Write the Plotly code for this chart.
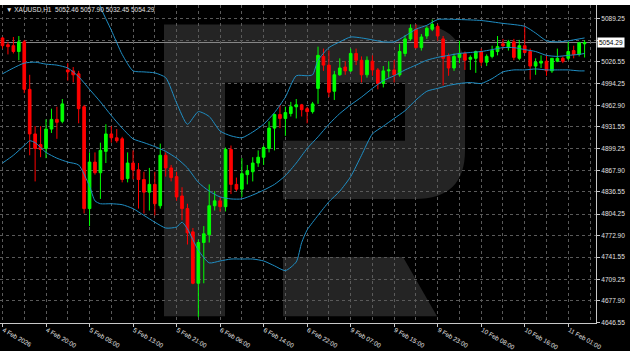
import plotly.graph_objects as go

# ---------------- data ----------------
open_ = [5061.0, 5051.1, 5049.7, 5041.2, 5055.3, 4986.1, 4921.1, 4905.6, 4899.9, 4928.2,
         4942.3, 4939.5, 5014.4, 5013.0, 5008.7, 4960.7, 4812.3, 4880.1, 4864.6, 4895.7,
         4921.1, 4915.5, 4914.0, 4856.1, 4878.7, 4868.8, 4854.7, 4836.3, 4847.6, 4816.5,
         4890.0, 4871.6, 4858.9, 4830.7, 4812.3, 4778.4, 4703.5, 4762.9, 4774.1, 4816.5,
         4823.6, 4815.1, 4898.5, 4847.6, 4840.6, 4861.8, 4866.0, 4878.7, 4887.2, 4899.9,
         4929.6, 4949.4, 4943.7, 4950.8, 4960.7, 4963.5, 4957.9, 4953.6, 4987.5, 5034.1,
         5021.4, 4983.3, 5007.3, 5018.6, 5013.0, 5038.4, 5028.5, 5007.3, 5027.1, 5014.4,
         4994.6, 5013.0, 5014.4, 5007.3, 5038.4, 5059.6, 5073.7, 5046.9, 5063.8, 5073.7,
         5077.9, 5059.6, 5034.1, 5017.2, 5032.7, 5038.4, 5029.9, 5031.3, 5041.2, 5025.7,
         5034.1, 5041.2, 5052.5, 5046.9, 5055.3, 5031.3, 5049.7, 5041.2, 5020.0, 5024.3,
         5027.1, 5013.0, 5027.1, 5031.3, 5031.3, 5042.6, 5037.0, 5052.46]
high = [5062.4, 5055.3, 5062.4, 5063.8, 5058.2, 5007.3, 4932.4, 4932.4, 4942.3, 4957.9,
        4960.7, 4972.0, 5024.3, 5018.6, 5013.0, 4963.5, 4894.2, 4894.2, 4908.4, 4935.2,
        4932.4, 4928.2, 4916.9, 4894.2, 4897.1, 4878.7, 4866.0, 4871.6, 4866.0, 4907.0,
        4894.2, 4875.9, 4866.0, 4843.4, 4819.4, 4784.0, 4767.1, 4786.8, 4847.6, 4837.7,
        4829.3, 4901.3, 4904.2, 4857.5, 4885.8, 4875.9, 4887.2, 4897.1, 4904.2, 4939.5,
        4950.8, 4963.5, 4960.7, 4967.8, 4972.0, 4964.9, 4960.7, 4967.8, 5048.3, 5045.5,
        5042.6, 5013.0, 5031.3, 5027.1, 5045.5, 5045.5, 5034.1, 5034.1, 5035.6, 5017.2,
        5020.0, 5027.1, 5028.5, 5052.5, 5065.2, 5080.8, 5080.8, 5066.6, 5077.9, 5087.8,
        5080.8, 5063.8, 5038.4, 5038.4, 5056.8, 5041.2, 5035.6, 5042.6, 5045.5, 5037.0,
        5049.7, 5063.8, 5059.6, 5058.2, 5059.6, 5058.2, 5077.9, 5045.5, 5031.3, 5035.6,
        5035.6, 5031.3, 5045.5, 5034.1, 5055.3, 5049.7, 5055.3, 5057.90]
low = [5045.5, 5037.0, 5038.4, 5028.5, 4980.5, 4890.0, 4851.9, 4887.2, 4885.8, 4922.5,
       4914.0, 4936.6, 4998.8, 4996.0, 4936.6, 4805.2, 4786.8, 4861.8, 4826.4, 4878.7,
       4908.4, 4908.4, 4850.5, 4850.5, 4854.7, 4812.3, 4805.2, 4809.5, 4802.4, 4812.3,
       4858.9, 4851.9, 4823.6, 4795.4, 4760.0, 4702.1, 4654.1, 4703.5, 4762.9, 4809.5,
       4808.1, 4808.1, 4833.5, 4837.7, 4829.3, 4847.6, 4851.9, 4873.1, 4875.9, 4894.2,
       4897.1, 4929.6, 4918.3, 4946.5, 4943.7, 4946.5, 4936.6, 4950.8, 4964.9, 5013.0,
       4974.8, 4970.6, 5005.9, 5007.3, 5011.5, 5021.4, 4996.0, 5003.1, 5005.9, 4986.1,
       4988.9, 5003.1, 4996.0, 5004.5, 5034.1, 5056.8, 5045.5, 5042.6, 5059.6, 5070.9,
       5056.8, 4991.8, 5005.9, 5013.0, 5024.3, 5014.4, 5014.4, 5010.1, 5020.0, 5020.0,
       5031.3, 5035.6, 5045.5, 5042.6, 5028.5, 5028.5, 5038.4, 5000.2, 5007.3, 5017.2,
       5005.9, 5010.1, 5025.7, 5024.3, 5028.5, 5031.3, 5034.1, 5032.45]
close = [5049.7, 5048.3, 5041.2, 5055.3, 4986.1, 4921.1, 4899.9, 4898.5, 4928.2, 4942.3,
         4938.1, 4964.9, 5011.5, 5007.3, 4957.9, 4812.3, 4880.1, 4864.6, 4897.1, 4921.1,
         4915.5, 4911.2, 4854.7, 4878.7, 4868.8, 4854.7, 4836.3, 4847.6, 4819.4, 4890.0,
         4871.6, 4857.5, 4829.3, 4812.3, 4777.0, 4703.5, 4762.9, 4775.6, 4816.5, 4823.6,
         4815.1, 4898.5, 4847.6, 4840.6, 4863.2, 4867.4, 4878.7, 4887.2, 4901.3, 4929.6,
         4949.4, 4943.7, 4952.2, 4960.7, 4963.5, 4956.4, 4953.6, 4964.9, 5035.6, 5021.4,
         4981.9, 5007.3, 5017.2, 5013.0, 5038.4, 5028.5, 5007.3, 5028.5, 5014.4, 4994.6,
         5013.0, 5014.4, 5007.3, 5041.2, 5059.6, 5075.1, 5046.9, 5062.4, 5075.1, 5080.8,
         5063.8, 5031.3, 5017.2, 5034.1, 5038.4, 5028.5, 5032.7, 5041.2, 5025.7, 5034.1,
         5042.6, 5048.3, 5049.7, 5055.3, 5032.7, 5049.7, 5039.8, 5020.0, 5025.7, 5027.1,
         5013.0, 5031.3, 5031.3, 5027.1, 5041.2, 5037.0, 5053.9, 5054.29]
bars = list(range(len(close)))

upper_idx = [17, 18, 20, 22, 24, 26, 28, 30, 32, 34, 36, 38, 40, 42, 44, 46, 48, 50, 52, 54,
             56, 57, 58, 60, 62, 64, 66, 68, 70, 72, 74, 76, 78, 80, 84, 88, 92, 96, 98, 100,
             102, 104, 106, 107]
upper_band = [5131.6, 5106.2, 5072.3, 5037.0, 5013.0, 5011.5, 5010.1, 5003.1, 4966.3, 4935.2,
              4953.6, 4946.5, 4925.3, 4918.3, 4915.5, 4923.9, 4935.2, 4952.2, 4974.8, 5005.9,
              5005.9, 5007.3, 5028.5, 5046.9, 5055.3, 5062.4, 5061.0, 5058.2, 5055.3, 5055.3,
              5063.8, 5073.7, 5079.4, 5087.8, 5087.8, 5086.4, 5082.2, 5077.9, 5068.1, 5056.8,
              5055.3, 5056.8, 5059.6, 5061.0]
mid_idx = [0, 2, 4, 6, 8, 10, 12, 14, 16, 18, 20, 22, 24, 26, 28, 30, 32, 34, 36, 38, 40, 42,
           44, 46, 48, 50, 52, 54, 56, 58, 60, 62, 64, 66, 68, 70, 72, 74, 76, 78, 80, 82, 84,
           86, 88, 90, 92, 94, 96, 98, 100, 102, 104, 106, 107]
mid_band = [5008.7, 5017.2, 5024.3, 5025.7, 5022.8, 5021.4, 5017.2, 5004.5, 4986.1, 4967.8,
            4947.9, 4929.6, 4914.0, 4908.4, 4902.7, 4895.7, 4885.8, 4871.6, 4850.5, 4837.7,
            4829.3, 4826.4, 4826.4, 4832.1, 4839.2, 4847.6, 4860.3, 4878.7, 4899.9, 4916.9,
            4935.2, 4950.8, 4963.5, 4974.8, 4987.5, 4998.8, 5005.9, 5014.4, 5021.4, 5028.5,
            5032.7, 5035.6, 5038.4, 5039.8, 5041.2, 5044.0, 5046.9, 5046.9, 5044.0, 5041.2,
            5035.6, 5034.1, 5035.6, 5037.0, 5038.4]
lower_idx = [0, 2, 4, 5, 6, 8, 10, 12, 14, 16, 17, 18, 20, 22, 24, 26, 28, 30, 32, 33, 34, 36,
             38, 40, 42, 44, 46, 48, 50, 52, 54, 55, 56, 58, 60, 62, 64, 66, 68, 70, 72, 74,
             76, 78, 80, 82, 84, 86, 88, 90, 92, 94, 96, 98, 100, 102, 104, 106, 107]
lower_band = [4878.7, 4890.0, 4904.2, 4911.2, 4908.4, 4894.2, 4885.8, 4880.1, 4875.9, 4844.8,
              4823.6, 4819.4, 4819.4, 4818.0, 4812.3, 4802.4, 4792.5, 4784.0, 4785.4, 4792.5,
              4782.6, 4751.6, 4733.2, 4736.0, 4738.8, 4738.8, 4738.8, 4736.0, 4728.9, 4721.9,
              4734.6, 4762.9, 4781.2, 4802.4, 4822.2, 4837.7, 4858.9, 4890.0, 4921.1, 4932.4,
              4943.7, 4955.0, 4970.6, 4983.3, 4987.5, 4991.8, 4994.6, 4996.0, 4994.6, 5001.7,
              5011.5, 5014.4, 5014.4, 5015.8, 5014.4, 5014.4, 5014.4, 5013.0, 5013.0]

xtick_bars = [0, 8, 16, 24, 32, 40, 48, 56, 64, 72, 80, 88, 96, 104]
xtick_text = ["4 Feb 2026", "4 Feb 20:00", "5 Feb 05:00", "5 Feb 13:00", "5 Feb 21:00",
              "6 Feb 06:00", "6 Feb 14:00", "6 Feb 22:00", "9 Feb 07:00", "9 Feb 15:00",
              "9 Feb 23:00", "10 Feb 08:00", "10 Feb 16:00", "11 Feb 01:00"]
ytick_vals = [5089.25, 5057.90, 5026.55, 4994.25, 4962.90, 4931.55, 4899.25, 4867.90,
              4836.55, 4804.25, 4772.90, 4741.55, 4709.25, 4677.90, 4646.55]
# 5057.90 is hidden behind the current-price box in the reference
ytick_text = ["" if v == 5057.90 else "%.2f" % v for v in ytick_vals]
last_price = 5054.29
title_text = "\u25bc XAUUSD,H1  5052.46 5057.90 5032.45 5054.29"

# ---------------- styling ----------------
W, H = 630, 351
ML, MR, MT, MB = 0, 34, 5, 18
PW, PH = W - ML - MR, H - MT - MB
GRID = "#5a5a5a"
AXIS = "#c8c8c8"
TXT = "#e0e0e0"
BAND = "#1f8ec4"
FONT = "Liberation Sans"


def px(x, y):
    return x / PW, (PH + MT - y) / PH


def path(cmds):
    out = []
    for c in cmds:
        if c == "Z":
            out.append("Z")
            continue
        s = c[0]
        for (x, y) in c[1:]:
            a, b = px(x, y)
            s += " %.5f,%.5f" % (a, b)
        out.append(s)
    return " ".join(out)


logo_main = path([
    ("M", (164, 25)), ("L", (415, 25)), ("Q", (465, 25), (465, 75)), ("L", (465, 155)),
    ("Q", (465, 205), (415, 205)), ("L", (283, 205)), ("L", (283, 145)), ("L", (405, 145)),
    ("L", (405, 85)), ("L", (225, 85)), ("L", (225, 326)), ("L", (164, 326)), "Z"])
logo_leg = path([("M", (283, 265)), ("L", (403, 265)), ("L", (437, 326)), ("L", (283, 326)), "Z"])

fig = go.Figure()
fig.add_trace(go.Candlestick(
    x=bars, open=open_, high=high, low=low, close=close,
    increasing=dict(line=dict(color="#00ff00", width=1), fillcolor="#00ff00"),
    decreasing=dict(line=dict(color="#ff0000", width=1), fillcolor="#ff0000"),
    whiskerwidth=0, showlegend=False, hoverinfo="skip"))
for xs, ys in [(upper_idx, upper_band), (mid_idx, mid_band), (lower_idx, lower_band)]:
    fig.add_trace(go.Scatter(x=xs, y=ys, mode="lines",
                             line=dict(color=BAND, width=1, shape="spline", smoothing=0.6),
                             showlegend=False, hoverinfo="skip"))

shapes = [
    dict(type="path", path=logo_main, xref="paper", yref="paper", fillcolor="#242424",
         line=dict(width=0), layer="below"),
    dict(type="path", path=logo_leg, xref="paper", yref="paper", fillcolor="#242424",
         line=dict(width=0), layer="below"),
    dict(type="line", xref="paper", x0=0, x1=1, yref="y", y0=last_price, y1=last_price,
         line=dict(color="#8a8a8a", width=1), layer="below"),
    dict(type="rect", xref="paper", x0=-0.01, x1=1.1, yref="paper", y0=1.0, y1=1.0 + MT / PH + 0.01,
         fillcolor="#ffffff", line=dict(width=0), layer="above"),
]

fig.update_layout(
    width=W, height=H,
    margin=dict(l=ML, r=MR, t=MT, b=MB),
    paper_bgcolor="#000000", plot_bgcolor="#000000",
    font=dict(family=FONT, color=TXT, size=6.5),
    shapes=shapes,
    xaxis=dict(
        range=[-0.46, 109.1], rangeslider=dict(visible=False),
        tickmode="array", tickvals=xtick_bars, ticktext=xtick_text,
        ticklabelposition="outside right",
        tickfont=dict(size=6.3, color=TXT, family=FONT),
        ticks="outside", ticklen=3, tickcolor=AXIS,
        showline=True, linecolor=AXIS, linewidth=1, mirror=False,
        showgrid=True, gridcolor=GRID, griddash="dot", gridwidth=1,
        minor=dict(dtick=4, tick0=0, showgrid=True, gridcolor=GRID, griddash="dot", ticks=""),
        zeroline=False, fixedrange=True),
    yaxis=dict(
        range=[4645.6, 5109.0], side="right",
        tickmode="array", tickvals=ytick_vals, ticktext=ytick_text,
        tickfont=dict(size=6.5, color=TXT, family=FONT),
        ticks="outside", ticklen=3, tickcolor=AXIS,
        showline=True, linecolor=AXIS, linewidth=1,
        showgrid=True, gridcolor=GRID, griddash="dot", gridwidth=1,
        zeroline=False, fixedrange=True),
    annotations=[
        dict(text=title_text, xref="paper", yref="paper", x=4 / PW, y=px(0, 10)[1],
             xanchor="left", yanchor="middle", showarrow=False,
             font=dict(size=6.5, color=TXT, family=FONT)),
        dict(text="%.2f" % last_price, xref="paper", yref="y", x=1, y=last_price,
             xanchor="left", yanchor="middle", xshift=1, showarrow=False,
             bgcolor="#ffffff", borderpad=1, font=dict(size=6.5, color="#000000", family=FONT)),
    ],
)

fig.write_html("out.html")
